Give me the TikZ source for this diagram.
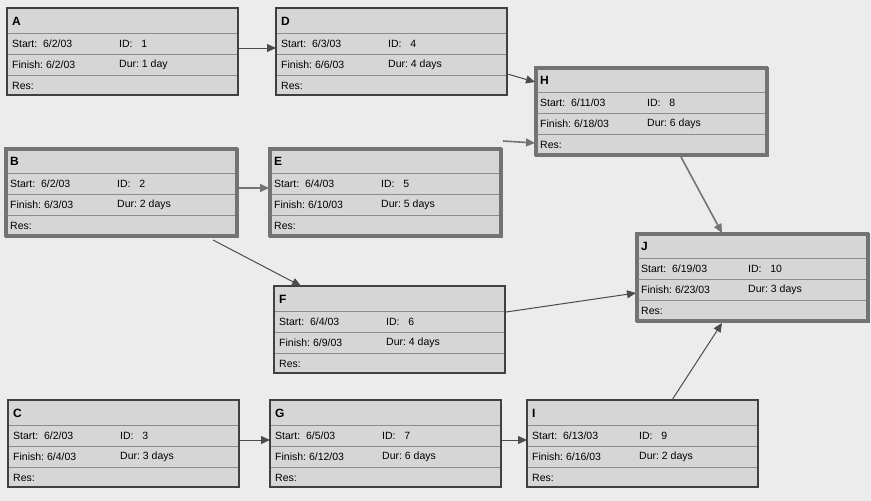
\documentclass[tikz,border=0pt]{standalone}
\usepackage{fontspec}
\setmainfont{Liberation Sans}
\usetikzlibrary{arrows.meta,calc}
\definecolor{bg}{HTML}{ECECEC}
\definecolor{fillc}{HTML}{D6D6D6}
\tikzset{
  norm/.style={draw=black!75,line width=1.2pt},
  crit/.style={draw=black!55,line width=3pt},
  sep/.style={draw=black!45,line width=1pt},
  txt/.style={anchor=west,inner sep=0pt,font=\fontsize{10.5}{12}\selectfont},
  conn/.style={draw=black!70,line width=1pt,-{Triangle[length=9pt,width=8pt]}},
  cconn/.style={draw=black!55,line width=1.6pt,-{Triangle[length=9pt,width=8pt]}},
}
% \tbox{name}{x1}{y1}{style}{letter}{start}{id}{finish}{dur}
\newcommand{\tbox}[9]{%
  \node[#4,fill=fillc,rectangle,inner sep=0pt,minimum width=231pt,minimum height=87pt,anchor=north west] (#1) at (#2,#3) {};
  \draw[sep] (#2,#3+25) -- (#2+231,#3+25) (#2,#3+46) -- (#2+231,#3+46) (#2,#3+67) -- (#2+231,#3+67);
  \node[txt,font=\bfseries\fontsize{12}{14}\selectfont] (#1t) at (#2+5,#3+13) {#5};
  \node[txt] (#1s) at (#2+5,#3+36) {Start:\ \ #6};
  \node[txt] (#1i) at (#2+112,#3+36) {ID:\ \ \ #7};
  \node[txt] (#1f) at (#2+5,#3+57) {Finish:\ #8};
  \node[txt] (#1d) at (#2+112,#3+57) {Dur:\ #9};
  \node[txt] (#1r) at (#2+5,#3+78) {Res:};
  \draw[#4,fill=none] (#2,#3) rectangle (#2+231,#3+87);
}
\begin{document}
\begin{tikzpicture}[x=1pt,y=-1pt]
\fill[bg] (0,0) rectangle (871,501);
\useasboundingbox (0,0) rectangle (871,501);
\tbox{A}{7}{8}{norm}{A}{6/2/03}{1}{6/2/03}{1 day}
\tbox{D}{276}{8}{norm}{D}{6/3/03}{4}{6/6/03}{4 days}
\tbox{H}{535}{67}{crit}{H}{6/11/03}{8}{6/18/03}{6 days}
\tbox{B}{5}{148}{crit}{B}{6/2/03}{2}{6/3/03}{2 days}
\tbox{E}{269}{148}{crit}{E}{6/4/03}{5}{6/10/03}{5 days}
\tbox{F}{274}{286}{norm}{F}{6/4/03}{6}{6/9/03}{4 days}
\tbox{J}{636}{233}{crit}{J}{6/19/03}{10}{6/23/03}{3 days}
\tbox{C}{8}{400}{norm}{C}{6/2/03}{3}{6/4/03}{3 days}
\tbox{G}{270}{400}{norm}{G}{6/5/03}{7}{6/12/03}{6 days}
\tbox{I}{527}{400}{norm}{I}{6/13/03}{9}{6/16/03}{2 days}
\draw[conn] (A.east |- 0,48) -- (D.west |- 0,48);
\draw[conn] ($(D.south east)+(0,-22)$) -- (H.west |- 0,82);
\draw[cconn] (B.east |- 0,188) -- (E.west |- 0,188);
\draw[cconn] ($(E.north east)+(0,-7)$) -- (H.west |- 0,143);
\draw[conn] ($(B.south west)+(208,2)$) -- ($(F.north west)+(27,0)$);
\draw[cconn] ($(H.south west)+(146,0)$) -- ($(J.north west)+(86,0)$);
\draw[conn] (F.east |- 0,312) -- (J.west |- 0,293);
\draw[conn] (C.east |- 0,440) -- (G.west |- 0,440);
\draw[conn] (G.east |- 0,440) -- (I.west |- 0,440);
\draw[conn] ($(I.north west)+(145,0)$) -- ($(J.south west)+(86,0)$);
\end{tikzpicture}
\end{document}
